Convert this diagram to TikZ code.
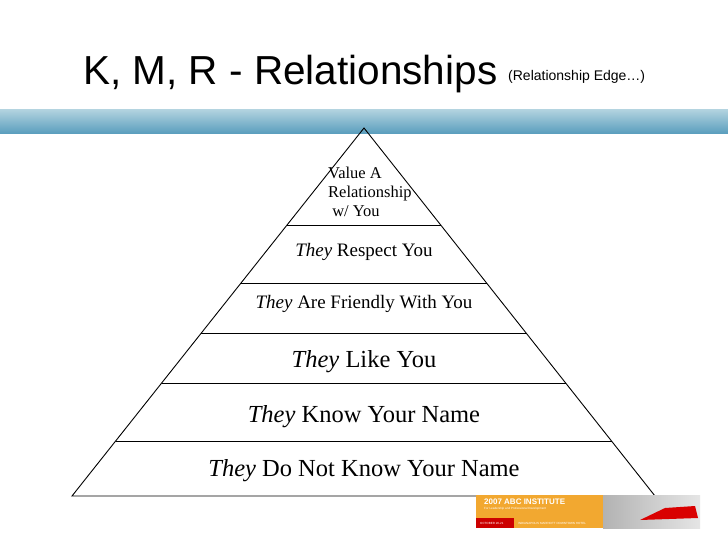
\documentclass[tikz,border=0pt]{standalone}
\usepackage{fontspec}
\setmainfont{Liberation Serif}
\newfontfamily\arial{Liberation Sans}
\definecolor{bandtop}{HTML}{B4D4E0}
\definecolor{bandbot}{HTML}{5C9FBE}
\definecolor{logoor}{HTML}{F2A830}
\begin{document}
\begin{tikzpicture}[x=1pt,y=-1pt,
  lvl/.style={font=\fontsize{19}{21}\selectfont, anchor=center},
  big/.style={font=\fontsize{24.5}{26}\selectfont, anchor=center},
  edge/.style={draw=black, line width=0.9pt}]
\useasboundingbox (0,0) rectangle (728,546);
\fill[white] (0,0) rectangle (728,546);
\shade[top color=bandtop, bottom color=bandbot] (0,109) rectangle (728,133);
\node[anchor=base west, font=\arial\fontsize{40.5}{42}\selectfont, inner sep=0] (title) at (83,84) {K, M, R - Relationships};
\node[anchor=base west, font=\arial\fontsize{14}{16}\selectfont, inner sep=0] (sub) at (508,80) {(Relationship Edge…)};
% pyramid
\coordinate (apex) at (364,128);
\coordinate (bl) at (72,496);
\coordinate (br) at (655,496);
\draw[edge] (bl) -- (apex) -- (br) -- cycle;
\foreach \y/\n in {225/a,283/b,333/c,383/d,441/e}{
  \pgfmathsetmacro\dx{(\y-128)*0.7935}
  \pgfmathsetmacro\dr{(\y-128)*0.7908}
  \coordinate (l\n) at ({364-\dx},\y);
  \coordinate (r\n) at ({364+\dr},\y);
  \draw[edge] (l\n) -- (r\n);
}
\node[anchor=west, align=left, inner sep=0, font=\fontsize{16.5}{19}\selectfont] (t1) at (328,192) {Value A\\Relationship\\\ w/ You};
\node[lvl] (t2) at (364,252) {\textit{They} Respect You};
\node[lvl] (t3) at (364,304) {\textit{They} Are Friendly With You};
\node[big] (t4) at (364,362) {\textit{They} Like You};
\node[big] (t5) at (364,417) {\textit{They} Know Your Name};
\node[big] (t6) at (364,471) {\textit{They} Do Not Know Your Name};
% logo
\fill[logoor] (476,495) rectangle (603,528);
\fill[red!80!black] (476,518) rectangle (514,528);
\shade[left color=gray!60, right color=gray!20] (603,495) rectangle (700,528);
\fill[red!85!black] (640,520) -- (665,508) -- (695,506) -- (698,518) -- cycle;
\node[anchor=west, text=white, font=\arial\bfseries\fontsize{8}{8}\selectfont, inner sep=0] (lg) at (484,502) {2007 ABC INSTITUTE};
\node[anchor=west, text=white, font=\arial\fontsize{3}{3}\selectfont, inner sep=0] (lg2) at (484,509) {For Leadership and Professional Development};
\node[anchor=west, text=white, font=\arial\fontsize{3}{3}\selectfont, inner sep=0] (lg3) at (518,523) {INDIANAPOLIS MARRIOTT DOWNTOWN HOTEL};
\node[anchor=west, text=white, font=\arial\fontsize{3}{3}\selectfont, inner sep=0] (lg4) at (480,523) {OCTOBER 20-21};
\end{tikzpicture}
\end{document}
